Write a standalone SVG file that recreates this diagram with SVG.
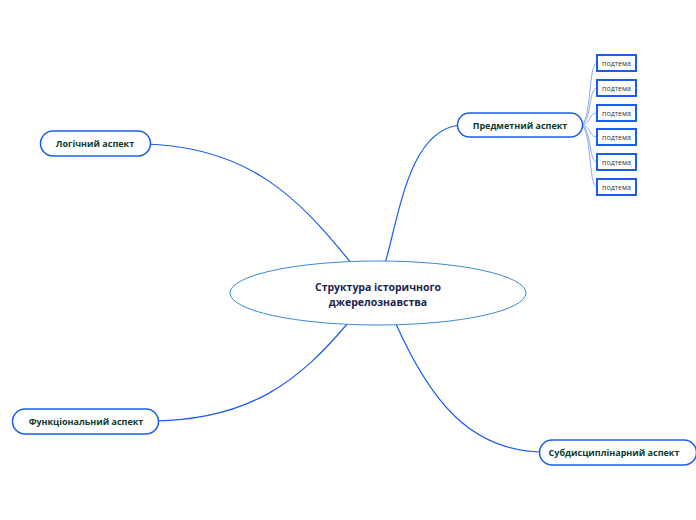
<svg xmlns="http://www.w3.org/2000/svg" width="696" height="520" viewBox="0 0 696 520">
<style>
.n{fill:#fff;stroke:#1a5cf0;stroke-width:1.5}
.t{font-family:"Open Sans","Noto Sans",sans-serif;font-size:9px;font-weight:bold;fill:#0d3b2e;text-anchor:middle}
.s{fill:#fff;stroke:#1a5cf0;stroke-width:2}
.st{font-family:"Open Sans","Noto Sans",sans-serif;font-size:7px;fill:#333;text-anchor:middle}
.c{fill:none;stroke:#1a5cf0;stroke-width:1.2}
.cs{fill:none;stroke:#8aaaf5;stroke-width:1}
</style>
<rect width="696" height="520" fill="#fff"/>
<g id="connectors">
<path class="c" d="M352,264 C300,200 250,145 140,144"/>
<path class="c" d="M385,264 C400,210 410,130 460,125"/>
<path class="c" d="M348,323 C300,380 250,421 150,421"/>
<path class="c" d="M396,324 C430,400 470,452 545,452"/>
<path class="cs" d="M580,125 C592,125 588,63 597,63"/>
<path class="cs" d="M580,125 C592,125 588,88 597,88"/>
<path class="cs" d="M580,125 C592,125 588,113 597,113"/>
<path class="cs" d="M580,125 C592,125 588,137 597,137"/>
<path class="cs" d="M580,125 C592,125 588,162 597,162"/>
<path class="cs" d="M580,125 C592,125 588,187 597,187"/>
</g>
<g id="root"><ellipse cx="378" cy="293" rx="148" ry="32" fill="#fff" stroke="#3a8ad6" stroke-width="1"/>
<text class="t" x="378" y="291" font-size="10.5" fill="#1a2550" style="font-size:10.5px;fill:#1a2550">Структура історичного</text>
<text class="t" x="378" y="306" style="font-size:10.5px;fill:#1a2550">джерелознавства</text></g>
<g id="n1"><rect class="n" x="40.5" y="131" width="110" height="25" rx="12.5"/><text class="t" x="95" y="147">Логічний аспект</text></g>
<g id="n2"><rect class="n" x="457.5" y="113" width="125" height="24" rx="12"/><text class="t" x="520" y="129">Предметний аспект</text></g>
<g id="n3"><rect class="n" x="12.5" y="409" width="146" height="25" rx="12.5"/><text class="t" x="86" y="425">Функціональний аспект</text></g>
<g id="n4"><rect class="n" x="539.5" y="440" width="157" height="25" rx="12.5"/><text class="t" x="614" y="456">Субдисциплінарний аспект</text></g>
<g id="s1"><rect class="s" x="597" y="55" width="39" height="16"/><text class="st" x="616.5" y="66">подтема</text></g>
<g id="s2"><rect class="s" x="597" y="80" width="39" height="16"/><text class="st" x="616.5" y="91">подтема</text></g>
<g id="s3"><rect class="s" x="597" y="105" width="39" height="16"/><text class="st" x="616.5" y="116">подтема</text></g>
<g id="s4"><rect class="s" x="597" y="129" width="39" height="16"/><text class="st" x="616.5" y="140">подтема</text></g>
<g id="s5"><rect class="s" x="597" y="154" width="39" height="16"/><text class="st" x="616.5" y="165">подтема</text></g>
<g id="s6"><rect class="s" x="597" y="179" width="39" height="16"/><text class="st" x="616.5" y="190">подтема</text></g>
</svg>
